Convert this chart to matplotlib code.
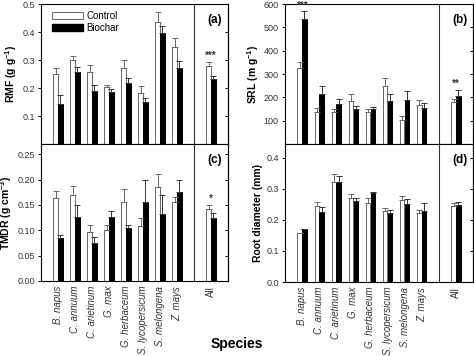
import matplotlib

matplotlib.use("Agg")
import matplotlib.pyplot as plt
import numpy as np
from matplotlib.patches import Patch

plt.rcParams.update({
    "font.family": ["Liberation Sans", "DejaVu Sans"],
    "font.size": 6.5,
    "axes.linewidth": 0.8,
    "mathtext.default": "regular",
})

SPECIES = ["B. napus", "C. annuum", "C. arietinum", "G. max", "G. herbaceum",
           "S. lycopersicum", "S. melongena", "Z. mays"]

# values: 8 species followed by "All"; *_top are the upper error bar ends
rmf_ctrl = [0.249, 0.300, 0.258, 0.205, 0.272, 0.181, 0.436, 0.345, 0.278]
rmf_ctrl_top = [0.273, 0.315, 0.281, 0.209, 0.301, 0.206, 0.471, 0.377, 0.292]
rmf_bio = [0.143, 0.258, 0.190, 0.186, 0.217, 0.151, 0.397, 0.271, 0.231]
rmf_bio_top = [0.175, 0.275, 0.211, 0.195, 0.236, 0.166, 0.423, 0.295, 0.243]

srl_ctrl = [325, 136, 136, 183, 136, 247, 105, 169, 179]
srl_ctrl_top = [353, 156, 150, 214, 149, 281, 122, 189, 191]
srl_bio = [536, 214, 170, 149, 149, 183, 187, 155, 207]
srl_bio_top = [569, 247, 193, 165, 159, 216, 227, 176, 230]

tmdr_ctrl = [0.163, 0.170, 0.097, 0.101, 0.156, 0.109, 0.185, 0.156, 0.141]
tmdr_ctrl_top = [0.178, 0.187, 0.110, 0.110, 0.182, 0.124, 0.210, 0.165, 0.149]
tmdr_bio = [0.085, 0.127, 0.075, 0.127, 0.104, 0.155, 0.133, 0.175, 0.124]
tmdr_bio_top = [0.091, 0.149, 0.086, 0.138, 0.110, 0.199, 0.170, 0.200, 0.134]

rd_ctrl = [0.158, 0.244, 0.321, 0.270, 0.254, 0.228, 0.265, 0.222, 0.246]
rd_ctrl_top = [0.158, 0.257, 0.347, 0.283, 0.272, 0.238, 0.276, 0.232, 0.254]
rd_bio = [0.171, 0.227, 0.322, 0.261, 0.286, 0.224, 0.252, 0.230, 0.248]
rd_bio_top = [0.171, 0.243, 0.341, 0.271, 0.291, 0.233, 0.269, 0.256, 0.257]

W, H = 474, 356
fig = plt.figure(figsize=(W / 100, H / 100), dpi=100)


def px_axes(x0, y0, x1, y1):
    return fig.add_axes([x0 / W, 1 - y1 / H, (x1 - x0) / W, (y1 - y0) / H])


X = np.array([1, 2, 3, 4, 5, 6, 7, 8, 10], dtype=float)
BW = 0.26
OFF = 0.14


def panel(ax, ctrl, ctrl_top, bio, bio_top, ylim, yticks, fmt, ylabel,
          tag, stars, star_y, show_x):
    ctrl = np.array(ctrl); bio = np.array(bio)
    ec = np.array(ctrl_top) - ctrl
    eb = np.array(bio_top) - bio
    ax.bar(X - OFF, ctrl, BW, color="white", edgecolor="#666666", linewidth=0.7, zorder=2)
    ax.bar(X + OFF, bio, BW, color="black", edgecolor="black", linewidth=0.7, zorder=2)
    ax.errorbar(X - OFF, ctrl, yerr=[np.zeros_like(ec), ec], fmt="none",
                ecolor="#666666", elinewidth=0.7, capsize=1.9, capthick=0.7, zorder=3)
    ax.errorbar(X + OFF, bio, yerr=[np.zeros_like(eb), eb], fmt="none",
                ecolor="#333333", elinewidth=0.7, capsize=1.9, capthick=0.7, zorder=3)
    ax.axvline(9, color="#333333", linewidth=0.8)
    ax.set_xlim(0, 11)
    ax.set_ylim(*ylim)
    ax.set_yticks(yticks)
    ax.set_yticklabels([fmt.format(v) for v in yticks], color="#333333")
    ax.tick_params(axis="y", left=True, right=False, direction="out",
                   length=2.5, width=0.7, pad=2)
    ax.set_ylabel(ylabel, fontweight="bold", fontsize=7.5, labelpad=2)
    ax.set_xticks(X)
    ax.tick_params(axis="x", direction="in", length=2, width=0.7)
    if show_x:
        ax.set_xticklabels(SPECIES + ["All"], rotation=90, color="#333333", fontsize=7)
        for lab in ax.get_xticklabels()[:-1]:
            lab.set_style("italic")
    else:
        ax.set_xticklabels([])
    # right-side ticks point inward
    ax2 = ax.secondary_yaxis("right")
    ax2.set_yticks(yticks)
    ax2.set_yticklabels([])
    ax2.tick_params(direction="in", length=2.5, width=0.7)
    ax.text(0.97, 0.93, tag, transform=ax.transAxes, ha="right", va="top",
            fontweight="bold", fontsize=8.5)
    if stars:
        ax.text(10, star_y, stars, ha="center", va="bottom", fontsize=7,
                fontweight="bold", color="#333333")


ax_a = px_axes(41, 4, 228, 144)
ax_b = px_axes(285, 4, 473, 144)
ax_c = px_axes(41, 144, 228, 281)
ax_d = px_axes(285, 144, 473, 282)

panel(ax_a, rmf_ctrl, rmf_ctrl_top, rmf_bio, rmf_bio_top, (0, 0.5),
      [0.1, 0.2, 0.3, 0.4, 0.5], "{:.1f}", "RMF (g g$^{-1}$)", "(a)", "***", 0.298, False)
panel(ax_b, srl_ctrl, srl_ctrl_top, srl_bio, srl_bio_top, (0, 600),
      [100, 200, 300, 400, 500, 600], "{:.0f}", "SRL (m g$^{-1}$)", "(b)", "**", 236, False)
panel(ax_c, tmdr_ctrl, tmdr_ctrl_top, tmdr_bio, tmdr_bio_top, (0, 0.27),
      [0.0, 0.05, 0.10, 0.15, 0.20, 0.25], "{:.2f}", "TMDR (g cm$^{-3}$)", "(c)", "*", 0.152, True)
panel(ax_d, rd_ctrl, rd_ctrl_top, rd_bio, rd_bio_top, (0, 0.445),
      [0.0, 0.1, 0.2, 0.3, 0.4], "{:.1f}", "Root diameter (mm)", "(d)", "", 0, True)

# significance mark over B. napus in SRL
ax_b.text(1 + OFF - 0.1, 572, "***", ha="center", va="bottom", fontsize=7,
          fontweight="bold", color="#333333")

handles = [Patch(facecolor="white", edgecolor="#666666", linewidth=0.7, label="Control"),
           Patch(facecolor="black", edgecolor="black", label="Biochar")]
ax_a.legend(handles=handles, loc="upper left", frameon=False, fontsize=7,
            handlelength=3.2, handleheight=0.7, handletextpad=0.4,
            labelspacing=0.25, borderaxespad=0.3, bbox_to_anchor=(0.02, 1.0))

fig.text(237 / W, 1 - 344 / H, "Species", ha="center", va="center",
         fontweight="bold", fontsize=10)

fig.savefig("out.png", dpi=100)
